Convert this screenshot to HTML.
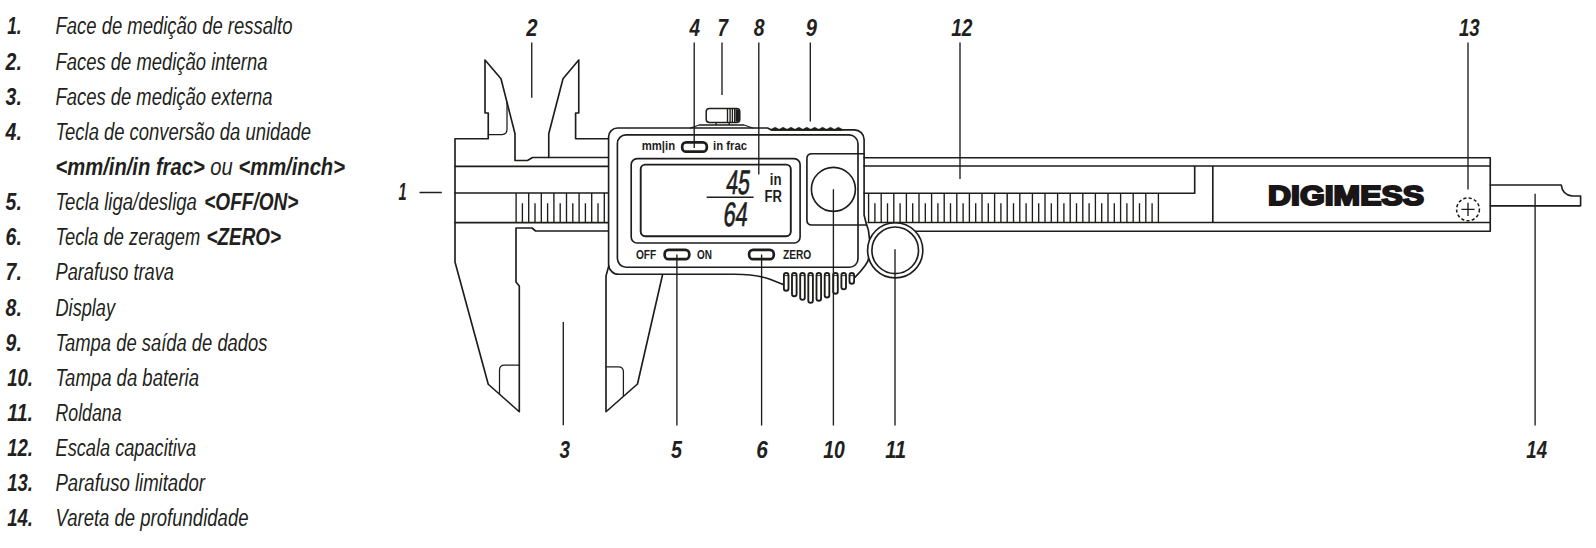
<!DOCTYPE html>
<html lang="pt"><head><meta charset="utf-8"><title>Paquímetro digital</title>
<style>html,body{margin:0;padding:0;background:#fff}body{width:1596px;height:548px;overflow:hidden}svg{display:block}.t{font-family:"Liberation Sans",sans-serif;font-style:italic;font-size:23px;fill:#231f20}.b{font-weight:bold}.n{font-family:"Liberation Sans",sans-serif;font-style:italic;font-weight:bold;font-size:24px;fill:#231f20}.s{font-family:"Liberation Sans",sans-serif;font-weight:bold;fill:#1d1d1b}.o{fill:none;stroke:#1d1d1b;stroke-width:1.65;stroke-linejoin:round;stroke-linecap:round}.l{fill:none;stroke:#1d1d1b;stroke-width:1.35}.k{fill:none;stroke:#1d1d1b;stroke-width:1.35}</style></head><body>
<svg width="1596" height="548" viewBox="0 0 1596 548">
<rect width="1596" height="548" fill="#fff"/>
<text class="t b" x="7.2" y="34.00" textLength="14.4" lengthAdjust="spacingAndGlyphs">1.</text>
<text class="t" x="55.5" y="34.00" textLength="237.0" lengthAdjust="spacingAndGlyphs">Face de medição de ressalto</text>
<text class="t b" x="5.6" y="69.63" textLength="16.2" lengthAdjust="spacingAndGlyphs">2.</text>
<text class="t" x="55.5" y="69.63" textLength="212.0" lengthAdjust="spacingAndGlyphs">Faces de medição interna</text>
<text class="t b" x="5.6" y="104.76" textLength="16.2" lengthAdjust="spacingAndGlyphs">3.</text>
<text class="t" x="55.5" y="104.76" textLength="217.0" lengthAdjust="spacingAndGlyphs">Faces de medição externa</text>
<text class="t b" x="5.6" y="139.89" textLength="16.2" lengthAdjust="spacingAndGlyphs">4.</text>
<text class="t" x="55.5" y="139.89" textLength="255.5" lengthAdjust="spacingAndGlyphs">Tecla de conversão da unidade</text>
<text class="t" x="55.5" y="175.02" textLength="289.5" lengthAdjust="spacingAndGlyphs"><tspan class="b">&lt;mm/in/in frac&gt;</tspan> ou <tspan class="b">&lt;mm/inch&gt;</tspan></text>
<text class="t b" x="5.6" y="210.15" textLength="16.2" lengthAdjust="spacingAndGlyphs">5.</text>
<text class="t" x="55.5" y="210.15" textLength="141.4" lengthAdjust="spacingAndGlyphs">Tecla liga/desliga</text>
<text class="t b" x="204.2" y="210.15" textLength="94.3" lengthAdjust="spacingAndGlyphs">&lt;OFF/ON&gt;</text>
<text class="t b" x="5.6" y="245.28" textLength="16.2" lengthAdjust="spacingAndGlyphs">6.</text>
<text class="t" x="55.5" y="245.28" textLength="144.7" lengthAdjust="spacingAndGlyphs">Tecla de zeragem</text>
<text class="t b" x="206.5" y="245.28" textLength="74.5" lengthAdjust="spacingAndGlyphs">&lt;ZERO&gt;</text>
<text class="t b" x="5.6" y="280.41" textLength="16.2" lengthAdjust="spacingAndGlyphs">7.</text>
<text class="t" x="55.5" y="280.41" textLength="118.5" lengthAdjust="spacingAndGlyphs">Parafuso trava</text>
<text class="t b" x="5.6" y="315.84" textLength="16.2" lengthAdjust="spacingAndGlyphs">8.</text>
<text class="t" x="55.5" y="315.84" textLength="59.5" lengthAdjust="spacingAndGlyphs">Display</text>
<text class="t b" x="5.6" y="350.97" textLength="16.2" lengthAdjust="spacingAndGlyphs">9.</text>
<text class="t" x="55.5" y="350.97" textLength="212.0" lengthAdjust="spacingAndGlyphs">Tampa de saída de dados</text>
<text class="t b" x="7.2" y="386.30" textLength="25.8" lengthAdjust="spacingAndGlyphs">10.</text>
<text class="t" x="55.5" y="386.30" textLength="143.5" lengthAdjust="spacingAndGlyphs">Tampa da bateria</text>
<text class="t b" x="7.2" y="421.03" textLength="25.8" lengthAdjust="spacingAndGlyphs">11.</text>
<text class="t" x="55.5" y="421.03" textLength="66.0" lengthAdjust="spacingAndGlyphs">Roldana</text>
<text class="t b" x="7.2" y="455.86" textLength="25.8" lengthAdjust="spacingAndGlyphs">12.</text>
<text class="t" x="55.5" y="455.86" textLength="140.5" lengthAdjust="spacingAndGlyphs">Escala capacitiva</text>
<text class="t b" x="7.2" y="491.09" textLength="25.8" lengthAdjust="spacingAndGlyphs">13.</text>
<text class="t" x="55.5" y="491.09" textLength="149.5" lengthAdjust="spacingAndGlyphs">Parafuso limitador</text>
<text class="t b" x="7.2" y="525.82" textLength="25.8" lengthAdjust="spacingAndGlyphs">14.</text>
<text class="t" x="55.5" y="525.82" textLength="193.0" lengthAdjust="spacingAndGlyphs">Vareta de profundidade</text>
<g class="o">
<path d="M608 157.5 H532.5 L527.5 160.5 H515 V133.75 L501 78.75 L485 60 V113 H488.25 V138.75 H455 V262 L488.25 384.25 L519.3 411.75 V286 L516 282 V228 H532 L535.6 231 H608"/>
<path d="M488.25 134.5 H502 Q507 134.5 507 129 V102.3" style="stroke-width:1.25"/>
<path d="M455 166.3 H608 M455 193 H608 M455 222.6 H608"/>
<path d="M499.5 393.75 V370 Q499.5 365 504.5 365 H519.3" style="stroke-width:1.25"/>
<path d="M548.75 157.5 V133.75 L563 78.75 L578.75 60 V113 H575.6 V138.75 H608"/>
<path d="M608.6 266.5 L606 276 V411.75 L637.5 384 L662.6 274.5"/>
<path d="M605.9 366.75 H618.4 Q623.4 366.75 623.4 371.75 V395.7" style="stroke-width:1.25"/>
<path d="M608.6 264.25 V137 A9 9 0 0 1 617.6 128 H767.6 L771 129.8 H854.4 A9.7 9.7 0 0 1 864.1 139.5 V215 Q866 224 868.4 230 Q870.5 243 869.4 256 Q868.4 261.5 864.8 266 Q860.5 272 854.9 277.3 M608.6 264.25 A10 10 0 0 0 618.6 274.25 H735 Q755 274.25 770 279.2 L783.2 284.6"/>
<path d="M690.5 128 L699.2 125 H743.9 L752.8 128" style="stroke-width:1.3"/>
<path d="M626 134.9 H849 A9 9 0 0 1 858 143.9 V258.7 A8.5 8.5 0 0 1 849.5 267.2 H626 A8.6 8.6 0 0 1 617.4 258.6 V143.5 A8.6 8.6 0 0 1 626 134.9 Z"/>
<rect x="631.2" y="158.6" width="168.9" height="84.4" rx="6" ry="6"/>
<path d="M864 153.7 H811.9 Q806.9 153.7 806.9 158.7 V220 Q806.9 225 811.9 225 H866.5"/>
<circle cx="833.4" cy="189.3" r="22"/>
<circle cx="895.2" cy="250.3" r="27.6" fill="#fff"/>
<circle cx="895.2" cy="250.3" r="23.3"/>
<path d="M864 157.7 H1490.25 V231.25 H915.6 M864 166 H1490 M864 193.2 H1194.7 V166 M1212.8 166 V222.5 M868 222.5 H1490"/>
<path d="M1490.25 185 H1561.3 Q1562.3 195 1572.3 196 H1580.6 V205.8 H1490.25"/>
<rect x="706.2" y="108.5" width="33.6" height="14" rx="3.2" ry="3.2" style="stroke-width:1.5"/>
</g>
<rect x="640.7" y="164.6" width="150.1" height="71.6" rx="4.6" ry="4.6" fill="none" stroke="#1d1d1b" stroke-width="1.9"/>
<path d="M735.5 109.3 H737 Q739.4 109.3 739.4 112 V119 Q739.4 121.8 737 121.8 H735.5 Z" fill="#1d1d1b"/>
<path class="k" d="M727.5 109 V122 M730.1 109 V122 M732.4 109 V122 M734.7 109 V122 M716.1 122.5 V125 M729.2 122.5 V125"/>
<path d="M771 130.5 L771 129.3 L775.20 127.2 L779.15 129.3 L783.10 127.2 L787.05 129.3 L791.00 127.2 L794.95 129.3 L798.90 127.2 L802.85 129.3 L806.80 127.2 L810.75 129.3 L814.70 127.2 L818.65 129.3 L822.60 127.2 L826.55 129.3 L830.50 127.2 L834.45 129.3 L838.40 127.2 L842.35 129.3 L841.7 129.3 L841.7 130.5 Z" fill="#1d1d1b" stroke="#1d1d1b" stroke-width="0.5" stroke-linejoin="round"/>
<rect x="682.1999999999999" y="142.4" width="24.599999999999998" height="9.2" rx="3.9" ry="3.9" fill="none" stroke="#1d1d1b" stroke-width="2.7"/>
<rect x="664.65" y="249.9" width="24.599999999999998" height="9.2" rx="3.9" ry="3.9" fill="none" stroke="#1d1d1b" stroke-width="2.7"/>
<rect x="749.15" y="249.9" width="24.599999999999998" height="9.2" rx="3.9" ry="3.9" fill="none" stroke="#1d1d1b" stroke-width="2.7"/>
<rect x="783.9" y="273" width="4.6" height="17.7" rx="2.3" ry="2.3" fill="#fff" stroke="#1d1d1b" stroke-width="1.85"/>
<rect x="792.0" y="273" width="4.6" height="23.2" rx="2.3" ry="2.3" fill="#fff" stroke="#1d1d1b" stroke-width="1.85"/>
<rect x="800.2" y="273" width="4.6" height="26.8" rx="2.3" ry="2.3" fill="#fff" stroke="#1d1d1b" stroke-width="1.85"/>
<rect x="808.3" y="273" width="4.6" height="29.8" rx="2.3" ry="2.3" fill="#fff" stroke="#1d1d1b" stroke-width="1.85"/>
<rect x="816.5" y="273" width="4.6" height="27.7" rx="2.3" ry="2.3" fill="#fff" stroke="#1d1d1b" stroke-width="1.85"/>
<rect x="824.7" y="273" width="4.6" height="24.5" rx="2.3" ry="2.3" fill="#fff" stroke="#1d1d1b" stroke-width="1.85"/>
<rect x="833.2" y="273" width="4.6" height="20.7" rx="2.3" ry="2.3" fill="#fff" stroke="#1d1d1b" stroke-width="1.85"/>
<rect x="841.4" y="273" width="4.6" height="16.3" rx="2.3" ry="2.3" fill="#fff" stroke="#1d1d1b" stroke-width="1.85"/>
<rect x="849.5" y="273" width="4.6" height="10.7" rx="2.3" ry="2.3" fill="#fff" stroke="#1d1d1b" stroke-width="1.85"/>
<path d="M784.2 275.6 H788.2 M792.3 275.6 H796.3 M800.5 275.6 H804.5 M808.6 275.6 H812.6 M816.8 275.6 H820.8 M825.0 275.6 H829.0 M833.5 275.6 H837.5 M841.7 275.6 H845.7 M849.8 275.6 H853.8 " fill="none" stroke="#1d1d1b" stroke-width="0.9"/>
<path class="k" d="M516.10 193 V222.6 M522.40 203.3 V222.6 M528.70 193 V222.6 M535.00 203.3 V222.6 M541.30 193 V222.6 M547.60 203.3 V222.6 M553.90 193 V222.6 M560.20 203.3 V222.6 M566.50 193 V222.6 M572.80 203.3 V222.6 M579.10 193 V222.6 M585.40 203.3 V222.6 M591.70 193 V222.6 M598.00 203.3 V222.6 M604.30 193 V222.6 M868.60 193 V222.5 M874.90 203.3 V222.5 M881.20 193 V222.5 M887.50 203.3 V222.5 M893.80 193 V222.5 M900.10 203.3 V222.5 M906.40 193 V222.5 M912.70 203.3 V222.5 M919.00 193 V222.5 M925.30 203.3 V222.5 M931.60 193 V222.5 M937.90 203.3 V222.5 M944.20 193 V222.5 M950.50 203.3 V222.5 M956.80 193 V222.5 M963.10 203.3 V222.5 M969.40 193 V222.5 M975.70 203.3 V222.5 M982.00 193 V222.5 M988.30 203.3 V222.5 M994.60 193 V222.5 M1000.90 203.3 V222.5 M1007.20 193 V222.5 M1013.50 203.3 V222.5 M1019.80 193 V222.5 M1026.10 203.3 V222.5 M1032.40 193 V222.5 M1038.70 203.3 V222.5 M1045.00 193 V222.5 M1051.30 203.3 V222.5 M1057.60 193 V222.5 M1063.90 203.3 V222.5 M1070.20 193 V222.5 M1076.50 203.3 V222.5 M1082.80 193 V222.5 M1089.10 203.3 V222.5 M1095.40 193 V222.5 M1101.70 203.3 V222.5 M1108.00 193 V222.5 M1114.30 203.3 V222.5 M1120.60 193 V222.5 M1126.90 203.3 V222.5 M1133.20 193 V222.5 M1139.50 203.3 V222.5 M1145.80 193 V222.5 M1152.10 203.3 V222.5 M1158.40 193 V222.5 "/>
<circle cx="1468" cy="209.4" r="11.4" fill="#fff" stroke="#1d1d1b" stroke-width="1.5" stroke-dasharray="3.2 2.2"/>
<path class="k" d="M1461.4 209.4 H1474.6 M1468 202.8 V216"/>
<text class="s" font-size="12.5" x="641.75" y="150" textLength="33.3" lengthAdjust="spacingAndGlyphs">mm|in</text>
<text class="s" font-size="12.5" x="713" y="150" textLength="34" lengthAdjust="spacingAndGlyphs">in frac</text>
<text class="s" font-size="13.2" x="635.9" y="258.9" textLength="20.3" lengthAdjust="spacingAndGlyphs">OFF</text>
<text class="s" font-size="13.2" x="697" y="258.9" textLength="15" lengthAdjust="spacingAndGlyphs">ON</text>
<text class="s" font-size="13.2" x="783" y="258.9" textLength="28.3" lengthAdjust="spacingAndGlyphs">ZERO</text>
<text class="s" font-size="16" x="769.8" y="184.5" textLength="11.7" lengthAdjust="spacingAndGlyphs">in</text>
<text class="s" font-size="16" x="764.6" y="201.5" textLength="17.4" lengthAdjust="spacingAndGlyphs">FR</text>
<text transform="translate(725.2,194.4) skewX(-7)" font-family="'Liberation Sans',sans-serif" font-size="34" fill="#1d1d1b" stroke="#1d1d1b" stroke-width="0.7" textLength="23.6" lengthAdjust="spacingAndGlyphs">45</text>
<text transform="translate(722.5,226.1) skewX(-7)" font-family="'Liberation Sans',sans-serif" font-size="34" fill="#1d1d1b" stroke="#1d1d1b" stroke-width="0.7" textLength="24.2" lengthAdjust="spacingAndGlyphs">64</text>
<path d="M706.7 197.2 H753.6" stroke="#1d1d1b" stroke-width="1.6" fill="none"/>
<text x="1268.1" y="204.5" font-family="'Liberation Sans',sans-serif" font-weight="bold" font-size="27.2" fill="#1a1617" stroke="#1a1617" stroke-width="2.1" stroke-linejoin="miter" textLength="155.8" lengthAdjust="spacingAndGlyphs">DIGIMESS</text>
<path class="l" d="M419.5 192.5 H441.8 M531.75 42.5 V97.8 M694.2 42.5 V148 M722 42.5 V95 M758.8 42.5 V174.4 M810.3 42.5 V121.4 M960 42.5 V179 M1468 42.5 V189.5 M563.3 322 V425.3 M676.9 254.5 V425.5 M761.6 254.5 V425.5 M833.4 189.3 V425.5 M895 249.3 V425.5 M1535.1 193.75 V425.5"/>
<text class="n" x="398.6" y="199.6" textLength="8.1" lengthAdjust="spacingAndGlyphs">1</text>
<text class="n" x="526.25" y="35.75" textLength="11.25" lengthAdjust="spacingAndGlyphs">2</text>
<text class="n" x="689.5" y="35.75" textLength="10.5" lengthAdjust="spacingAndGlyphs">4</text>
<text class="n" x="717.5" y="35.75" textLength="10.5" lengthAdjust="spacingAndGlyphs">7</text>
<text class="n" x="753.75" y="35.75" textLength="10.75" lengthAdjust="spacingAndGlyphs">8</text>
<text class="n" x="805.75" y="35.75" textLength="11.25" lengthAdjust="spacingAndGlyphs">9</text>
<text class="n" x="951.25" y="35.75" textLength="21.25" lengthAdjust="spacingAndGlyphs">12</text>
<text class="n" x="1459" y="35.75" textLength="20.75" lengthAdjust="spacingAndGlyphs">13</text>
<text class="n" x="559.5" y="457.5" textLength="10.5" lengthAdjust="spacingAndGlyphs">3</text>
<text class="n" x="671" y="457.5" textLength="11" lengthAdjust="spacingAndGlyphs">5</text>
<text class="n" x="756.2" y="457.5" textLength="11.6" lengthAdjust="spacingAndGlyphs">6</text>
<text class="n" x="823.3" y="457.5" textLength="21.6" lengthAdjust="spacingAndGlyphs">10</text>
<text class="n" x="885.3" y="457.5" textLength="20.7" lengthAdjust="spacingAndGlyphs">11</text>
<text class="n" x="1526.3" y="457.5" textLength="20.7" lengthAdjust="spacingAndGlyphs">14</text>
</svg></body></html>
